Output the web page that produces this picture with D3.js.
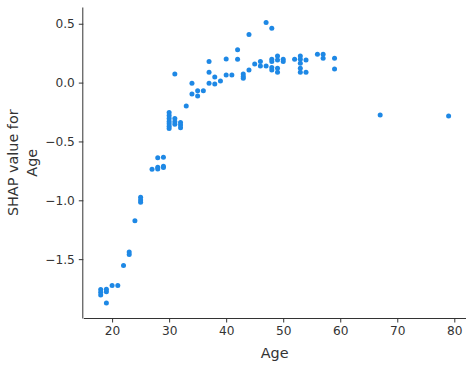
<!DOCTYPE html>
<meta charset="utf-8">
<script src="https://d3js.org/d3.v7.min.js"></script>
<style>
  body { margin: 0; background: #fff; }
  text { font-family: "DejaVu Sans", sans-serif; fill: #333333; }
</style>
<div id="my_dataviz"></div>
<script>
// Age of each sample and its SHAP value
var ages = [18,18,18, 19,19,19, 20, 21, 22, 23,23, 24, 25,25,25, 27,
  28,28,28, 29,29,29, 30,30,30,30,30,30,30, 31,31,31,31, 32,32,32, 33,
  34,34, 35,35, 36, 37,37,37, 38,38, 39, 40,40, 41, 42,42, 43,43,43,
  44,44, 45, 46,46, 47,47, 48,48,48,48,48, 49,49,49,49, 50,50, 52,
  53,53,53,53,53, 54,54, 56, 57,57, 59,59, 67, 79];
var shapValues = [-1.757,-1.782,-1.805, -1.755,-1.778,-1.873, -1.723, -1.723, -1.553, -1.44,-1.46, -1.173, -0.974,-0.997,-1.017, -0.736,
  -0.638,-0.72,-0.735, -0.634,-0.71,-0.722, -0.255,-0.28,-0.305,-0.33,-0.35,-0.37,-0.39, 0.074,-0.306,-0.332,-0.354, -0.34,-0.36,-0.383, -0.198,
  -0.005,-0.096, -0.07,-0.113, -0.07, 0.179,0.088,-0.005, 0.048,-0.011, 0.014, 0.2,0.065, 0.065, 0.278,0.199, 0.074,0.051,0.037,
  0.408,0.108, 0.159, 0.179,0.142, 0.51,0.142, 0.462,0.199,0.179,0.128,0.108, 0.227,0.193,0.122,0.088, 0.199,0.179, 0.199,
  0.227,0.199,0.165,0.122,0.088, 0.193,0.088, 0.241, 0.241,0.207, 0.207,0.116, -0.275, -0.284];

var xTicks = [20, 30, 40, 50, 60, 70, 80];
var yTicks = [0.5, 0.0, -0.5, -1.0, -1.5];
var xLimits = [14.95, 82.05];
var yLimits = [-2.0, 0.638];

var data = ages.map(function(a, i) { return {age: a, shap: shapValues[i]}; });

var margin = {top: 7.5, right: 8, bottom: 47, left: 83.3},
    width = 474 - margin.left - margin.right,
    height = 365 - margin.top - margin.bottom;

var svg = d3.select("#my_dataviz")
  .append("svg")
    .attr("width", 474)
    .attr("height", 365)
  .append("g")
    .attr("transform", "translate(" + margin.left + "," + margin.top + ")");

var x = d3.scaleLinear().domain(xLimits).range([0, width]);
var y = d3.scaleLinear().domain(yLimits).range([height, 0]);

var fmtMinus = function(s) { return s.replace("-", "\u2212"); };

// X axis
var xAxis = svg.append("g")
  .attr("transform", "translate(0," + height + ")")
  .call(d3.axisBottom(x).tickValues(xTicks).tickSize(4.5).tickPadding(4).tickFormat(d3.format("d")));
xAxis.selectAll("text").style("font-size", "12.2px").attr("fill", "#333333");

// Y axis
var yAxis = svg.append("g")
  .call(d3.axisLeft(y).tickValues(yTicks).tickSize(4.5).tickPadding(4)
    .tickFormat(function(d) { return fmtMinus(d3.format(".1f")(d)); }));
yAxis.selectAll("text").style("font-size", "12.2px").attr("fill", "#333333");

svg.selectAll(".domain, .tick line").attr("stroke", "#333333").attr("stroke-width", 1);
// only the left and bottom spines, no end ticks
xAxis.select(".domain").attr("d", "M0.5,0.5H" + width);
yAxis.select(".domain").attr("d", "M-0.5,0V" + (height + 0.5));

// points
svg.append("g")
  .selectAll("circle")
  .data(data)
  .enter()
  .append("circle")
    .attr("cx", function(d) { return x(d.age); })
    .attr("cy", function(d) { return y(d.shap); })
    .attr("r", 2.5)
    .attr("fill", "#1E88E5");

// axis labels
svg.append("text")
  .attr("x", width / 2)
  .attr("y", height + 40)
  .attr("text-anchor", "middle")
  .style("font-size", "14.4px")
  .text("Age");

var yl = svg.append("text")
  .attr("transform", "translate(" + (-65) + "," + (height / 2) + ") rotate(-90)")
  .attr("text-anchor", "middle")
  .style("font-size", "14.4px");
yl.append("tspan").attr("x", 0).attr("dy", "0").text("SHAP value for");
yl.append("tspan").attr("x", 0).attr("dy", "1.3em").text("Age");
</script>
